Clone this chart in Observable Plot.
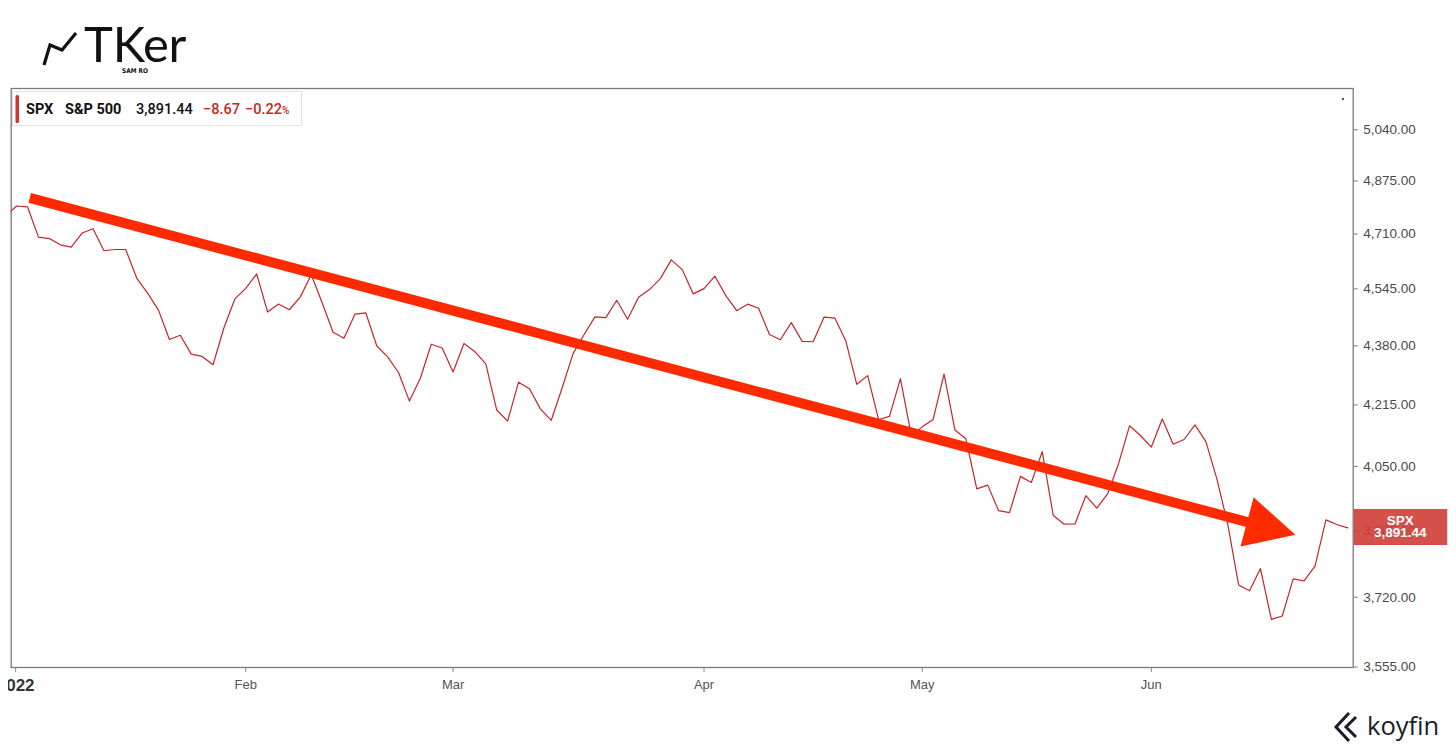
<!DOCTYPE html>
<html>
<head>
<meta charset="utf-8">
<script src="https://cdn.jsdelivr.net/npm/d3@7"></script>
<script src="https://cdn.jsdelivr.net/npm/@observablehq/plot@0.6"></script>
<style>
  html, body { margin: 0; padding: 0; background: #fff; }
  body { width: 1456px; height: 752px; position: relative; overflow: hidden; font-family: "Liberation Sans", Arial, sans-serif; }
  #chart { position: absolute; left: 8px; top: 0; }
  #overlay { position: absolute; left: 0; top: 0; pointer-events: none; }
</style>
</head>
<body>
<div id="chart"></div>
<svg id="overlay" width="1456" height="752" xmlns="http://www.w3.org/2000/svg"></svg>
<script>
// ---- data (S&P 500 daily closes) ----
const dates = [
  "2021-12-31",
  "2022-01-03","2022-01-04","2022-01-05","2022-01-06","2022-01-07","2022-01-10","2022-01-11","2022-01-12","2022-01-13","2022-01-14",
  "2022-01-17","2022-01-18","2022-01-19","2022-01-20","2022-01-21","2022-01-24","2022-01-25","2022-01-26","2022-01-27","2022-01-28","2022-01-31",
  "2022-02-01","2022-02-02","2022-02-03","2022-02-04","2022-02-07","2022-02-08","2022-02-09","2022-02-10","2022-02-11","2022-02-14",
  "2022-02-15","2022-02-16","2022-02-17","2022-02-18","2022-02-22","2022-02-23","2022-02-24","2022-02-25","2022-02-28",
  "2022-03-01","2022-03-02","2022-03-03","2022-03-04","2022-03-07","2022-03-08","2022-03-09","2022-03-10","2022-03-11","2022-03-14",
  "2022-03-15","2022-03-16","2022-03-17","2022-03-18","2022-03-21","2022-03-22","2022-03-23","2022-03-24","2022-03-25","2022-03-28",
  "2022-03-29","2022-03-30","2022-03-31",
  "2022-04-01","2022-04-04","2022-04-05","2022-04-06","2022-04-07","2022-04-08","2022-04-11","2022-04-12","2022-04-13","2022-04-14",
  "2022-04-18","2022-04-19","2022-04-20","2022-04-21","2022-04-22","2022-04-25","2022-04-26","2022-04-27","2022-04-28","2022-04-29",
  "2022-05-02","2022-05-03","2022-05-04","2022-05-05","2022-05-06","2022-05-09","2022-05-10","2022-05-11","2022-05-12","2022-05-13",
  "2022-05-16","2022-05-17","2022-05-18","2022-05-19","2022-05-20","2022-05-23","2022-05-24","2022-05-25","2022-05-26","2022-05-27","2022-05-31",
  "2022-06-01","2022-06-02","2022-06-03","2022-06-06","2022-06-07","2022-06-08","2022-06-09","2022-06-10","2022-06-13","2022-06-14",
  "2022-06-15","2022-06-16","2022-06-17","2022-06-21","2022-06-22","2022-06-23","2022-06-24","2022-06-27","2022-06-28"
];
const closes = [
  4766.18,
  4796.56,4793.54,4700.58,4696.05,4677.03,4670.29,4713.07,4726.35,4659.03,4662.85,
  4662.85,4577.11,4532.76,4482.73,4397.94,4410.13,4356.45,4349.93,4326.51,4431.85,4515.55,
  4546.54,4589.38,4477.44,4500.53,4483.87,4521.54,4587.18,4504.08,4418.64,4401.67,
  4471.07,4475.01,4380.26,4348.87,4304.76,4225.50,4288.70,4384.65,4373.94,
  4306.26,4386.54,4363.49,4328.87,4201.09,4170.70,4277.88,4259.52,4204.31,4173.11,
  4262.45,4357.86,4411.67,4463.12,4461.18,4511.61,4456.24,4520.16,4543.06,4575.52,
  4631.60,4602.45,4530.41,
  4545.86,4582.64,4525.12,4481.15,4500.21,4488.28,4412.53,4397.45,4446.59,4392.59,
  4391.69,4462.21,4459.45,4393.66,4271.78,4296.12,4175.20,4183.96,4287.50,4131.93,
  4155.38,4175.48,4300.17,4146.87,4123.34,3991.24,4001.05,3935.18,3930.08,4023.89,
  4008.01,4088.85,3923.68,3900.79,3901.36,3973.75,3941.48,3978.73,4057.84,4158.24,4132.15,
  4101.23,4176.82,4108.54,4121.43,4160.68,4115.77,4017.82,3900.86,3749.63,3735.48,
  3789.99,3666.77,3674.84,3764.79,3759.89,3795.73,3911.74,3900.11,3891.44
];
const yTicks = [3555, 3720, 3885, 4050, 4215, 4380, 4545, 4710, 4875, 5040];
const yearLabel = "2022";
const monthLabels = ["Feb", "Mar", "Apr", "May", "Jun"];
const yDomain = [3554, 5177];
// hand-drawn trend arrow, in data units (trading-day index, index value)
const trendArrow = [{t: 1.2, value: 4822}, {t: 117.2, value: 3874}];
const legendInfo = {ticker: "SPX", name: "S&P 500", last: 3891.44, change: -8.67, changePct: -0.22};

// ---- build table ----
const data = dates.map((d, k) => ({date: d, i: k - 1, close: closes[k]}));
const firstOfMonth = data.filter((d, k) => d.i >= 0 && d.date.slice(0, 7) !== data[k - 1].date.slice(0, 7));
const yearTick = firstOfMonth[0].i;
const monthTicks = firstOfMonth.slice(1).map(d => d.i);
const last = data[data.length - 1];
const fmt2 = d3.format(",.2f");

const RED_LINE = "#c3262b";
const ARROW = "#ff2a00";

const headSymbol = {draw(ctx) { ctx.moveTo(0, 0); ctx.lineTo(-50, -25.5); ctx.lineTo(-50, 25.5); ctx.closePath(); }};
const tagSymbol = {draw(ctx) { ctx.moveTo(0.5, -19); ctx.lineTo(94, -19); ctx.lineTo(94, 17); ctx.lineTo(0.5, 17); ctx.closePath(); }};

function makePlot(angle, shaftEnd) {
  return Plot.plot({
    width: 1448,
    height: 700,
    marginLeft: 2.7,
    marginRight: 103.3,
    marginTop: 88,
    marginBottom: 33,
    style: {fontFamily: "'Liberation Sans', Arial, sans-serif", background: "white"},
    x: {domain: [-0.5, 122.5], axis: null},
    y: {type: "log", domain: yDomain, axis: null},
    marks: [
      Plot.frame({stroke: "#7a7a7a", strokeWidth: 1.3}),
      Plot.axisY(yTicks, {anchor: "right", tickFormat: fmt2, tickSize: 4, tickPadding: 6, fontSize: 13.5, fill: "#4a4a4a", stroke: "#777"}),
      Plot.axisX(monthTicks, {anchor: "bottom", tickFormat: v => monthLabels[monthTicks.indexOf(v)], tickSize: 5, tickPadding: 7, fontSize: 13, fill: "#555", stroke: "#888"}),
      Plot.axisX([yearTick], {anchor: "bottom", tickFormat: () => yearLabel, tickSize: 5, tickPadding: 6, fontSize: 17, fontWeight: "bold", fill: "#333", stroke: "#888", dx: -1}),
      Plot.line(data, {x: "i", y: "close", stroke: RED_LINE, strokeWidth: 1.2, clip: true}),
      Plot.link([{a: trendArrow[0], b: shaftEnd}], {x1: d => d.a.t, y1: d => d.a.value, x2: d => d.b.t, y2: d => d.b.value, stroke: ARROW, strokeWidth: 10, strokeLinecap: "butt"}),
      Plot.dot([trendArrow[1]], {x: "t", y: "value", symbol: headSymbol, rotate: angle, fill: ARROW, stroke: "none"}),
      Plot.dot([last], {y: "close", frameAnchor: "right", symbol: tagSymbol, fill: "#cf3d36", fillOpacity: 0.9, stroke: "none"}),
      Plot.text([last], {y: "close", frameAnchor: "right", dx: 47, dy: -1, text: d => legendInfo.ticker + "\n" + fmt2(d.close), fill: "white", fontSize: 13.5, fontWeight: "bold", lineHeight: 0.94, textAnchor: "middle"})
    ]
  });
}

let plot = makePlot(0, trendArrow[1]);
const sx = plot.scale("x"), sy = plot.scale("y");
const p0 = [sx.apply(trendArrow[0].t), sy.apply(trendArrow[0].value)];
const p1 = [sx.apply(trendArrow[1].t), sy.apply(trendArrow[1].value)];
const ang = Math.atan2(p1[1] - p0[1], p1[0] - p0[0]);
const back = 30;
const shaftEnd = {t: sx.invert(p1[0] - back * Math.cos(ang)), value: sy.invert(p1[1] - back * Math.sin(ang))};
plot = makePlot(ang * 180 / Math.PI, shaftEnd);
document.getElementById("chart").appendChild(plot);

// ---- overlay: logos and legend ----
const ov = d3.select("#overlay");
// TKer logo
ov.append("polyline").attr("points", "44,65 50,45 62,50 76,33").attr("fill", "none").attr("stroke", "#111").attr("stroke-width", 3.2);
ov.append("text").attr("x", 84).attr("y", 62).attr("font-family", "Lato, 'Open Sans', sans-serif").attr("font-size", 49).attr("font-weight", 400).attr("letter-spacing", -0.3).attr("fill", "#111").text("TKer");
ov.append("text").attr("x", 135).attr("y", 73).attr("text-anchor", "middle").attr("font-family", "'DejaVu Sans Condensed', 'DejaVu Sans', sans-serif").attr("font-size", 6.5).attr("font-weight", "bold").attr("fill", "#111").text("SAM RO");

// legend box
const lg = ov.append("g").attr("font-family", "Roboto, 'Liberation Sans', sans-serif").attr("font-size", 14.5);
lg.append("rect").attr("x", 12.5).attr("y", 91.5).attr("width", 289).attr("height", 34).attr("fill", "white").attr("stroke", "#e3e3e3");
lg.append("rect").attr("x", 15.5).attr("y", 95).attr("width", 3.5).attr("height", 28).attr("rx", 1.5).attr("fill", "#d0342c");
lg.append("text").attr("x", 26).attr("y", 114).attr("font-weight", 700).attr("fill", "#111").text(legendInfo.ticker);
lg.append("text").attr("x", 65).attr("y", 114).attr("font-weight", 700).attr("fill", "#111").text(legendInfo.name);
lg.append("text").attr("x", 136).attr("y", 114).attr("font-weight", 500).attr("fill", "#111").text(fmt2(legendInfo.last));
lg.append("text").attr("x", 203).attr("y", 114).attr("font-weight", 500).attr("fill", "#c8271f").text(d3.format(".2f")(legendInfo.change));
const pct = lg.append("text").attr("x", 245).attr("y", 114).attr("font-weight", 500).attr("fill", "#c8271f");
pct.append("tspan").text(d3.format(".2f")(legendInfo.changePct));
pct.append("tspan").attr("font-size", 10).text("%");

// tiny marker dot at top right of the panel
ov.append("circle").attr("cx", 1343).attr("cy", 99).attr("r", 1).attr("fill", "#222");

// koyfin logo
const kf = ov.append("g");
kf.append("polyline").attr("points", "1349,713 1336,727 1349,741").attr("fill", "none").attr("stroke", "#1c1c28").attr("stroke-width", 3);
kf.append("polyline").attr("points", "1356,717 1346,727 1356,737").attr("fill", "none").attr("stroke", "#1c1c28").attr("stroke-width", 3);
kf.append("text").attr("x", 1367).attr("y", 735).attr("font-family", "'Open Sans', sans-serif").attr("font-size", 25.5).attr("font-weight", 500).attr("fill", "#1c1c28").text("koyfin");
</script>
</body>
</html>
